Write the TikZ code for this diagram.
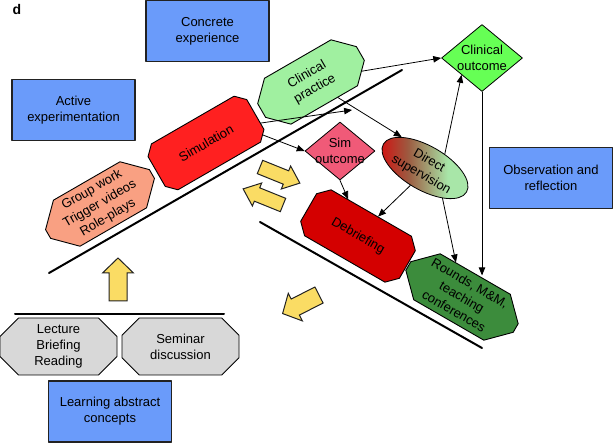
\documentclass[tikz,border=0pt]{standalone}
\usepackage{fontspec}
\setmainfont{Liberation Sans}
\usepackage{tikz}
\usetikzlibrary{calc}
\usetikzlibrary{arrows}
\usetikzlibrary{shapes.misc,shapes.geometric}
\definecolor{wazbfa}{rgb}{0.416,0.608,0.980}
\definecolor{fzaqys}{rgb}{0.976,0.627,0.510}
\definecolor{ffsqsq}{rgb}{1.,0.125,0.125}
\definecolor{aqfqaq}{rgb}{0.627,0.941,0.627}
\definecolor{fqvaxy}{rgb}{0.941,0.353,0.471}
\definecolor{wwffvv}{rgb}{0.4,1.,0.333}
\definecolor{duqqqq}{rgb}{0.831,0.,0.}
\definecolor{tcyctc}{rgb}{0.235,0.549,0.235}
\definecolor{dydydy}{rgb}{0.847,0.847,0.847}
\definecolor{fadcwu}{rgb}{0.980,0.863,0.392}
\definecolor{durqrq}{rgb}{0.831,0.063,0.063}
\definecolor{zcvauq}{rgb}{0.612,0.353,0.251}
\definecolor{ayeway}{rgb}{0.659,0.902,0.659}
\definecolor{ssssss}{rgb}{0.133,0.133,0.133}
\pgfdeclarehorizontalshading{dsupshade}{100bp}{color(0bp)=(durqrq); color(26bp)=(durqrq); color(41bp)=(zcvauq); color(62bp)=(ayeway); color(100bp)=(ayeway)}
\tikzstyle{every node}=[font=\fontsize{13}{16}\selectfont]
\tikzset{
  kolb/.style={draw=ssssss,line width=1.2pt,fill=wazbfa,minimum width=123pt,minimum height=61pt,align=center,inner sep=2pt},
  octa/.style={chamfered rectangle,chamfered rectangle xsep=18pt,draw=black,line width=0.9pt,minimum width=114pt,minimum height=53pt,align=center,inner sep=1pt},
  dia/.style={diamond,draw=black,line width=0.8pt,inner xsep=-14pt,inner ysep=-6pt,align=center},
  sepline/.style={line width=2pt},
  conn/.style={->,line width=0.8pt},
  yarr/.style={draw=ssssss,line width=1pt,fill=fadcwu,line join=miter},
  pics/yarrow/.style={code={\draw[yarr] (0,-9) -- (28,-9) -- (28,-15.5) -- (43,0) -- (28,15.5) -- (28,9) -- (0,9) -- cycle;}}
}
\begin{document}
\begin{tikzpicture}[line cap=round,line join=round,>=triangle 45,x=1.0pt,y=-1.0pt]
\useasboundingbox (0,0) rectangle (613,443);
% separating lines
\draw[sepline] (15,314) -- (224,314);
\draw[sepline] (49,273) -- (402,70);
\draw[sepline] (260,222) -- (482,348);
% the four stages
\node[font=\bfseries\fontsize{14}{14}\selectfont] (lbl) at (17,10) {d};
\node[kolb] (conc) at (207.5,31) {Concrete\\experience};
\node[kolb] (actv) at (73.5,110) {Active\\experimentation};
\node[kolb] (obsr) at (551,178) {Observation and\\reflection};
\node[kolb] (lrn) at (110,411.5) {Learning abstract\\concepts};
% activities
\node[octa,fill=fzaqys,rotate=30] (grp) at (100,204) {Group work\\Trigger videos\\Role-plays};
\node[octa,fill=ffsqsq,rotate=30] (sim) at (206,143) {Simulation};
\node[octa,fill=aqfqaq,rotate=30] (cprac) at (311,82) {Clinical\\practice};
\node[octa,fill=duqqqq,rotate=-30] (debr) at (358,236) {Debriefing};
\node[octa,fill=tcyctc,rotate=-30] (rnds) at (462,297) {Rounds, M\&M,\\teaching\\conferences};
\node[octa,fill=dydydy,chamfered rectangle xsep=15pt,minimum width=117pt,minimum height=57pt] (lect) at (58.5,346.5) {Lecture\\Briefing\\Reading};
\node[octa,fill=dydydy,chamfered rectangle xsep=15pt,minimum width=117pt,minimum height=57pt] (semn) at (180.5,346.5) {Seminar\\discussion};
% outcomes
\node[dia,fill=fqvaxy,minimum width=70pt,minimum height=58pt] (simout) at (340,151) {Sim\\outcome};
\node[dia,fill=wwffvv,minimum width=81pt,minimum height=67pt] (cout) at (482,58) {Clinical\\outcome};
\coordinate (dsupc) at (425,168);
\shade[shading=dsupshade] (dsupc) ellipse [x radius=48pt,y radius=22pt,rotate=-30];
\node[ellipse,draw,line width=0.8pt,rotate=-30,minimum width=96pt,minimum height=44pt,inner sep=0pt,align=center] (dsup) at (dsupc) {Direct\\supervision};
% connectors
\coordinate (simtip) at (352,110);
\draw[conn] (sim.-10) -- (simtip);
\draw[conn] (sim.-22) -- (simout.west);
\draw[conn] (cprac.-18) -- (cout.west);
\draw[conn] (cprac.-60) -- (dsup.157);
\draw[conn] (simout.south) -- (debr.135);
\draw[conn] (dsup.-100) -- (debr);
\draw[conn] (dsup.65) -- (cout.south west);
\draw[conn] (dsup.-30) -- (rnds.130);
\draw[conn] (cout.south) -- (cout.south |- rnds.83);
% yellow arrows
\pic[rotate=90] at (118,301) {yarrow};
\pic[rotate=-22,yscale=0.8] at (260,167) {yarrow};
\pic[rotate=158,yscale=0.8] at (283,205) {yarrow};
\pic[rotate=207,xscale=0.95] at (319,295) {yarrow};
\end{tikzpicture}
\end{document}
